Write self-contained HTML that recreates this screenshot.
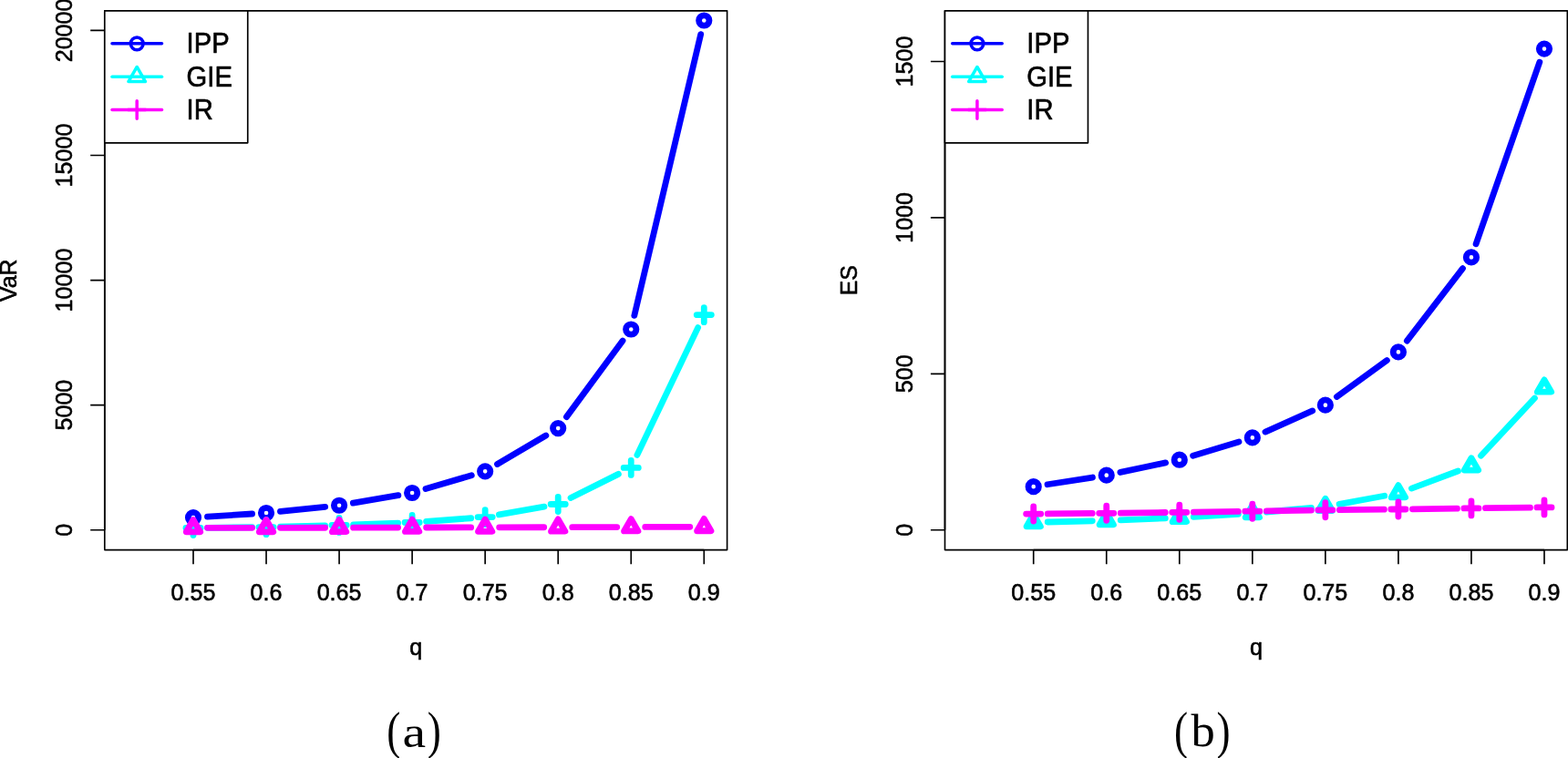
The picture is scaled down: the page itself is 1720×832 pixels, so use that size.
<!DOCTYPE html>
<html lang="en"><head><meta charset="utf-8"><title>VaR and ES versus q</title>
<style>
html,body{margin:0;padding:0;background:#fff;}
body{width:1720px;height:832px;overflow:hidden;}
svg{display:block;}
svg text{font-family:"Liberation Sans",sans-serif;fill:#000;stroke:#000;stroke-width:0.6px;stroke-linejoin:round;}
svg text.cap{font-family:"Liberation Serif",serif;stroke:none;}
</style></head><body>
<svg width="1720" height="832" viewBox="0 0 1720 832">
<rect width="1720" height="832" fill="#fff"/>
<g>
<path d="M227.47 567.11L276.57 563.99M307.46 561.41L356.66 556.34M387.36 552.13L436.84 543.62M466.98 536.61L517.30 521.74M545.51 509.47L598.85 477.98M621.40 457.62L683.04 373.98M695.80 346.41L768.72 37.59" fill="none" stroke="#0000ff" stroke-width="6.8" stroke-linecap="round"/>
<circle cx="212.00" cy="568.10" r="5.70" fill="none" stroke="#0000ff" stroke-width="6.8"/>
<circle cx="292.04" cy="563.00" r="5.70" fill="none" stroke="#0000ff" stroke-width="6.8"/>
<circle cx="372.08" cy="554.75" r="5.70" fill="none" stroke="#0000ff" stroke-width="6.8"/>
<circle cx="452.12" cy="541.00" r="5.70" fill="none" stroke="#0000ff" stroke-width="6.8"/>
<circle cx="532.16" cy="517.35" r="5.70" fill="none" stroke="#0000ff" stroke-width="6.8"/>
<circle cx="612.20" cy="470.10" r="5.70" fill="none" stroke="#0000ff" stroke-width="6.8"/>
<circle cx="692.24" cy="361.50" r="5.70" fill="none" stroke="#0000ff" stroke-width="6.8"/>
<circle cx="772.28" cy="22.50" r="5.70" fill="none" stroke="#0000ff" stroke-width="6.8"/>
<path d="M227.50 579.29L276.54 578.76M307.53 578.17L356.59 576.83M387.57 575.84L436.63 574.06M467.58 572.36L516.70 568.74M547.42 564.91L596.94 556.19M626.06 546.56L678.38 520.34M698.91 499.41L765.61 359.59" fill="none" stroke="#00ffff" stroke-width="6.8" stroke-linecap="round"/>
<path d="M203.94 579.45H220.06M212.00 571.39V587.51" fill="none" stroke="#00ffff" stroke-width="6.8" stroke-linecap="round"/>
<path d="M283.98 578.60H300.10M292.04 570.54V586.66" fill="none" stroke="#00ffff" stroke-width="6.8" stroke-linecap="round"/>
<path d="M364.02 576.40H380.14M372.08 568.34V584.46" fill="none" stroke="#00ffff" stroke-width="6.8" stroke-linecap="round"/>
<path d="M444.06 573.50H460.18M452.12 565.44V581.56" fill="none" stroke="#00ffff" stroke-width="6.8" stroke-linecap="round"/>
<path d="M524.10 567.60H540.22M532.16 559.54V575.66" fill="none" stroke="#00ffff" stroke-width="6.8" stroke-linecap="round"/>
<path d="M604.14 553.50H620.26M612.20 545.44V561.56" fill="none" stroke="#00ffff" stroke-width="6.8" stroke-linecap="round"/>
<path d="M684.18 513.40H700.30M692.24 505.34V521.46" fill="none" stroke="#00ffff" stroke-width="6.8" stroke-linecap="round"/>
<path d="M764.22 345.60H780.34M772.28 337.54V353.66" fill="none" stroke="#00ffff" stroke-width="6.8" stroke-linecap="round"/>
<path d="M227.50 579.35L276.54 579.35M307.54 579.32L356.58 579.23M387.58 579.16L436.62 579.04M467.62 578.98L516.66 578.92M547.66 578.86L596.70 578.74M627.70 578.66L676.74 578.54M707.74 578.46L756.78 578.34" fill="none" stroke="#ff00ff" stroke-width="6.8" stroke-linecap="round"/>
<path d="M212.00 570.49L219.68 583.78L204.32 583.78Z" fill="none" stroke="#ff00ff" stroke-width="6.8" stroke-linejoin="round"/>
<path d="M292.04 570.49L299.72 583.78L284.36 583.78Z" fill="none" stroke="#ff00ff" stroke-width="6.8" stroke-linejoin="round"/>
<path d="M372.08 570.34L379.76 583.63L364.40 583.63Z" fill="none" stroke="#ff00ff" stroke-width="6.8" stroke-linejoin="round"/>
<path d="M452.12 570.14L459.80 583.43L444.44 583.43Z" fill="none" stroke="#ff00ff" stroke-width="6.8" stroke-linejoin="round"/>
<path d="M532.16 570.04L539.84 583.33L524.48 583.33Z" fill="none" stroke="#ff00ff" stroke-width="6.8" stroke-linejoin="round"/>
<path d="M612.20 569.84L619.88 583.13L604.52 583.13Z" fill="none" stroke="#ff00ff" stroke-width="6.8" stroke-linejoin="round"/>
<path d="M692.24 569.64L699.92 582.93L684.56 582.93Z" fill="none" stroke="#ff00ff" stroke-width="6.8" stroke-linejoin="round"/>
<path d="M772.28 569.44L779.96 582.73L764.60 582.73Z" fill="none" stroke="#ff00ff" stroke-width="6.8" stroke-linejoin="round"/>
<rect x="114.80" y="11.85" width="682.80" height="591.75" fill="none" stroke="#000" stroke-width="1.65" stroke-linejoin="round" stroke-linecap="round"/>
<path d="M212.00 603.6H772.28M212.00 603.6V619.2M292.04 603.6V619.2M372.08 603.6V619.2M452.12 603.6V619.2M532.16 603.6V619.2M612.20 603.6V619.2M692.24 603.6V619.2M772.28 603.6V619.2M114.80 581.7V33.4M114.80 581.7H99.20M114.80 444.6H99.20M114.80 307.55H99.20M114.80 170.5H99.20M114.80 33.4H99.20" fill="none" stroke="#000" stroke-width="1.65"/>
<text transform="translate(212.00 658.7) scale(1 1.035)" text-anchor="middle" font-size="25.1">0.55</text>
<text transform="translate(292.04 658.7) scale(1 1.035)" text-anchor="middle" font-size="25.1">0.6</text>
<text transform="translate(372.08 658.7) scale(1 1.035)" text-anchor="middle" font-size="25.1">0.65</text>
<text transform="translate(452.12 658.7) scale(1 1.035)" text-anchor="middle" font-size="25.1">0.7</text>
<text transform="translate(532.16 658.7) scale(1 1.035)" text-anchor="middle" font-size="25.1">0.75</text>
<text transform="translate(612.20 658.7) scale(1 1.035)" text-anchor="middle" font-size="25.1">0.8</text>
<text transform="translate(692.24 658.7) scale(1 1.035)" text-anchor="middle" font-size="25.1">0.85</text>
<text transform="translate(772.28 658.7) scale(1 1.035)" text-anchor="middle" font-size="25.1">0.9</text>
<text transform="translate(78.80 581.7) rotate(-90) scale(1 1.005)" text-anchor="middle" font-size="25.1">0</text>
<text transform="translate(78.80 444.6) rotate(-90) scale(1 1.005)" text-anchor="middle" font-size="25.1">5000</text>
<text transform="translate(78.80 307.55) rotate(-90) scale(1 1.005)" text-anchor="middle" font-size="25.1">10000</text>
<text transform="translate(78.80 170.5) rotate(-90) scale(1 1.005)" text-anchor="middle" font-size="25.1">15000</text>
<text transform="translate(78.80 33.4) rotate(-90) scale(1 1.005)" text-anchor="middle" font-size="25.1">20000</text>
<text transform="translate(456.20 719.0) scale(1 1.035)" text-anchor="middle" font-size="25.1">q</text>
<text transform="translate(18.10 307.73) rotate(-90) scale(1 1.04)" text-anchor="middle" font-size="24.9">VaR</text>
<rect x="114.80" y="11.85" width="156.95" height="144.95000000000002" fill="#fff" stroke="#000" stroke-width="1.65" stroke-linejoin="round"/>
<path d="M123.00 47.8H177.50" stroke="#0000ff" stroke-width="3.5" stroke-linecap="round" fill="none"/>
<circle cx="150.20" cy="47.80" r="6.90" fill="none" stroke="#0000ff" stroke-width="3.5"/>
<text transform="translate(204.60 58.40) scale(1 1.06)" font-size="29.2">IPP</text>
<path d="M123.00 84.2H177.50" stroke="#00ffff" stroke-width="3.5" stroke-linecap="round" fill="none"/>
<path d="M150.20 73.47L159.49 89.57L140.91 89.57Z" fill="none" stroke="#00ffff" stroke-width="3.5" stroke-linejoin="round"/>
<text transform="translate(204.60 94.80) scale(1 1.06)" font-size="29.2">GIE</text>
<path d="M123.00 120.5H177.50" stroke="#ff00ff" stroke-width="3.5" stroke-linecap="round" fill="none"/>
<path d="M140.44 120.50H159.96M150.20 110.74V130.26" fill="none" stroke="#ff00ff" stroke-width="3.5" stroke-linecap="round"/>
<text transform="translate(204.60 131.10) scale(1 1.06)" font-size="29.2">IR</text>
</g>
<g>
<path d="M1149.01 531.76L1198.43 524.04M1228.90 518.44L1278.62 507.91M1308.61 500.20L1358.99 484.90M1387.97 474.08L1439.71 450.97M1466.39 435.53L1521.37 395.52M1543.35 374.12L1604.49 294.68M1619.06 267.77L1688.86 68.23" fill="none" stroke="#0000ff" stroke-width="6.8" stroke-linecap="round"/>
<circle cx="1133.70" cy="534.15" r="5.70" fill="none" stroke="#0000ff" stroke-width="6.8"/>
<circle cx="1213.74" cy="521.65" r="5.70" fill="none" stroke="#0000ff" stroke-width="6.8"/>
<circle cx="1293.78" cy="504.70" r="5.70" fill="none" stroke="#0000ff" stroke-width="6.8"/>
<circle cx="1373.82" cy="480.40" r="5.70" fill="none" stroke="#0000ff" stroke-width="6.8"/>
<circle cx="1453.86" cy="444.65" r="5.70" fill="none" stroke="#0000ff" stroke-width="6.8"/>
<circle cx="1533.90" cy="386.40" r="5.70" fill="none" stroke="#0000ff" stroke-width="6.8"/>
<circle cx="1613.94" cy="282.40" r="5.70" fill="none" stroke="#0000ff" stroke-width="6.8"/>
<circle cx="1693.98" cy="53.60" r="5.70" fill="none" stroke="#0000ff" stroke-width="6.8"/>
<path d="M1149.20 573.01L1198.24 571.79M1229.23 570.78L1278.29 568.82M1309.25 567.27L1358.35 564.33M1389.26 561.99L1438.42 557.51M1469.11 553.32L1518.65 544.28M1548.42 536.08L1599.42 517.02M1624.51 500.26L1683.41 437.04" fill="none" stroke="#00ffff" stroke-width="6.8" stroke-linecap="round"/>
<path d="M1133.70 564.54L1141.38 577.83L1126.02 577.83Z" fill="none" stroke="#00ffff" stroke-width="6.8" stroke-linejoin="round"/>
<path d="M1213.74 562.54L1221.42 575.83L1206.06 575.83Z" fill="none" stroke="#00ffff" stroke-width="6.8" stroke-linejoin="round"/>
<path d="M1293.78 559.34L1301.46 572.63L1286.10 572.63Z" fill="none" stroke="#00ffff" stroke-width="6.8" stroke-linejoin="round"/>
<path d="M1373.82 554.54L1381.50 567.83L1366.14 567.83Z" fill="none" stroke="#00ffff" stroke-width="6.8" stroke-linejoin="round"/>
<path d="M1453.86 547.24L1461.54 560.53L1446.18 560.53Z" fill="none" stroke="#00ffff" stroke-width="6.8" stroke-linejoin="round"/>
<path d="M1533.90 532.64L1541.58 545.93L1526.22 545.93Z" fill="none" stroke="#00ffff" stroke-width="6.8" stroke-linejoin="round"/>
<path d="M1613.94 502.74L1621.62 516.03L1606.26 516.03Z" fill="none" stroke="#00ffff" stroke-width="6.8" stroke-linejoin="round"/>
<path d="M1693.98 416.84L1701.66 430.13L1686.30 430.13Z" fill="none" stroke="#00ffff" stroke-width="6.8" stroke-linejoin="round"/>
<path d="M1149.20 563.90L1198.24 563.45M1229.24 563.11L1278.28 562.49M1309.28 562.09L1358.32 561.41M1389.32 560.93L1438.36 560.07M1469.36 559.65L1518.40 559.15M1549.40 558.79L1598.44 558.11M1629.44 557.71L1678.48 557.09" fill="none" stroke="#ff00ff" stroke-width="6.8" stroke-linecap="round"/>
<path d="M1125.64 564.05H1141.76M1133.70 555.99V572.11" fill="none" stroke="#ff00ff" stroke-width="6.8" stroke-linecap="round"/>
<path d="M1205.68 563.30H1221.80M1213.74 555.24V571.36" fill="none" stroke="#ff00ff" stroke-width="6.8" stroke-linecap="round"/>
<path d="M1285.72 562.30H1301.84M1293.78 554.24V570.36" fill="none" stroke="#ff00ff" stroke-width="6.8" stroke-linecap="round"/>
<path d="M1365.76 561.20H1381.88M1373.82 553.14V569.26" fill="none" stroke="#ff00ff" stroke-width="6.8" stroke-linecap="round"/>
<path d="M1445.80 559.80H1461.92M1453.86 551.74V567.86" fill="none" stroke="#ff00ff" stroke-width="6.8" stroke-linecap="round"/>
<path d="M1525.84 559.00H1541.96M1533.90 550.94V567.06" fill="none" stroke="#ff00ff" stroke-width="6.8" stroke-linecap="round"/>
<path d="M1605.88 557.90H1622.00M1613.94 549.84V565.96" fill="none" stroke="#ff00ff" stroke-width="6.8" stroke-linecap="round"/>
<path d="M1685.92 556.90H1702.04M1693.98 548.84V564.96" fill="none" stroke="#ff00ff" stroke-width="6.8" stroke-linecap="round"/>
<rect x="1036.50" y="11.85" width="682.80" height="591.75" fill="none" stroke="#000" stroke-width="1.65" stroke-linejoin="round" stroke-linecap="round"/>
<path d="M1133.70 603.6H1693.98M1133.70 603.6V619.2M1213.74 603.6V619.2M1293.78 603.6V619.2M1373.82 603.6V619.2M1453.86 603.6V619.2M1533.90 603.6V619.2M1613.94 603.6V619.2M1693.98 603.6V619.2M1036.50 581.7V67.5M1036.50 581.7H1020.90M1036.50 410.3H1020.90M1036.50 238.9H1020.90M1036.50 67.5H1020.90" fill="none" stroke="#000" stroke-width="1.65"/>
<text transform="translate(1133.70 658.7) scale(1 1.035)" text-anchor="middle" font-size="25.1">0.55</text>
<text transform="translate(1213.74 658.7) scale(1 1.035)" text-anchor="middle" font-size="25.1">0.6</text>
<text transform="translate(1293.78 658.7) scale(1 1.035)" text-anchor="middle" font-size="25.1">0.65</text>
<text transform="translate(1373.82 658.7) scale(1 1.035)" text-anchor="middle" font-size="25.1">0.7</text>
<text transform="translate(1453.86 658.7) scale(1 1.035)" text-anchor="middle" font-size="25.1">0.75</text>
<text transform="translate(1533.90 658.7) scale(1 1.035)" text-anchor="middle" font-size="25.1">0.8</text>
<text transform="translate(1613.94 658.7) scale(1 1.035)" text-anchor="middle" font-size="25.1">0.85</text>
<text transform="translate(1693.98 658.7) scale(1 1.035)" text-anchor="middle" font-size="25.1">0.9</text>
<text transform="translate(1000.50 581.7) rotate(-90) scale(1 1.005)" text-anchor="middle" font-size="25.1">0</text>
<text transform="translate(1000.50 410.3) rotate(-90) scale(1 1.005)" text-anchor="middle" font-size="25.1">500</text>
<text transform="translate(1000.50 238.9) rotate(-90) scale(1 1.005)" text-anchor="middle" font-size="25.1">1000</text>
<text transform="translate(1000.50 67.5) rotate(-90) scale(1 1.005)" text-anchor="middle" font-size="25.1">1500</text>
<text transform="translate(1377.90 719.0) scale(1 1.035)" text-anchor="middle" font-size="25.1">q</text>
<text transform="translate(939.80 307.73) rotate(-90) scale(1 1.04)" text-anchor="middle" font-size="24.9">ES</text>
<rect x="1036.50" y="11.85" width="156.95" height="144.95000000000002" fill="#fff" stroke="#000" stroke-width="1.65" stroke-linejoin="round"/>
<path d="M1044.70 47.8H1099.20" stroke="#0000ff" stroke-width="3.5" stroke-linecap="round" fill="none"/>
<circle cx="1071.90" cy="47.80" r="6.90" fill="none" stroke="#0000ff" stroke-width="3.5"/>
<text transform="translate(1126.30 58.40) scale(1 1.06)" font-size="29.2">IPP</text>
<path d="M1044.70 84.2H1099.20" stroke="#00ffff" stroke-width="3.5" stroke-linecap="round" fill="none"/>
<path d="M1071.90 73.47L1081.19 89.57L1062.61 89.57Z" fill="none" stroke="#00ffff" stroke-width="3.5" stroke-linejoin="round"/>
<text transform="translate(1126.30 94.80) scale(1 1.06)" font-size="29.2">GIE</text>
<path d="M1044.70 120.5H1099.20" stroke="#ff00ff" stroke-width="3.5" stroke-linecap="round" fill="none"/>
<path d="M1062.14 120.50H1081.66M1071.90 110.74V130.26" fill="none" stroke="#ff00ff" stroke-width="3.5" stroke-linecap="round"/>
<text transform="translate(1126.30 131.10) scale(1 1.06)" font-size="29.2">IR</text>
</g>
<g><text class="cap" transform="translate(424.30 820.90) scale(0.87 1.111)" font-size="52">(</text><text class="cap" transform="translate(441.60 819.50) scale(1.11 0.93)" font-size="52">a</text><text class="cap" transform="translate(468.70 820.90) scale(0.87 1.111)" font-size="52">)</text></g>
<g><text class="cap" transform="translate(1287.90 820.90) scale(0.87 1.111)" font-size="52">(</text><text class="cap" transform="translate(1306.50 818.90) scale(1.01 0.97)" font-size="52">b</text><text class="cap" transform="translate(1334.60 820.90) scale(0.87 1.111)" font-size="52">)</text></g>
</svg>
</body></html>
